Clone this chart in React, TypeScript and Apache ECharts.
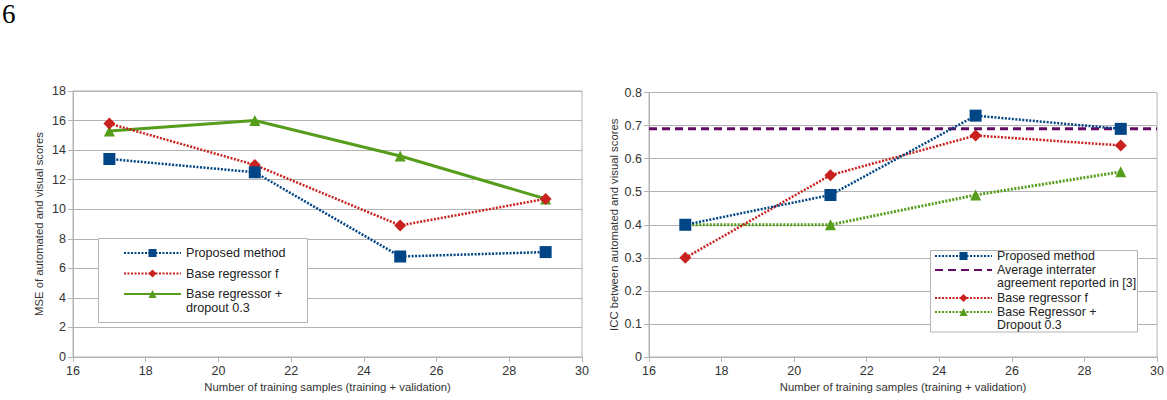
import React, { useEffect, useRef } from "react";
import * as echarts from "echarts";

// ---- data ----
const samples = [17, 21, 25, 29];
const mseProposed = [13.4, 12.5, 6.8, 7.1];
const mseBase = [15.8, 13.0, 8.9, 10.7];
const mseDropout = [15.3, 16.0, 13.6, 10.7];
const iccProposed = [0.4, 0.49, 0.73, 0.69];
const iccBase = [0.3, 0.55, 0.67, 0.64];
const iccDropout = [0.4, 0.4, 0.49, 0.56];
const interraterX = [16, 30];
const interraterValue = 0.69;

const legendLabels: Record<string, string> = {
  mseProposed: "Proposed method",
  mseBase: "Base regressor f",
  mseDropout: "Base regressor +\n{l2|dropout 0.3}",
  iccProposed: "Proposed method",
  iccInterrater: "Average interrater\n{l2|agreement reported in [3]}",
  iccBase: "Base regressor f",
  iccDropout: "Base Regressor +\n{l2|Dropout 0.3}",
};

const FONT = "Liberation Sans, Arial, sans-serif";
const BLUE = "#004586";
const RED = "#c9211e";
const GREEN = "#579d1c";
const PURPLE = "#630a63";
const GRID = "#b3b3b3";
const DOT = [2, 1.5];

const pts = (ys: number[]) => ys.map((y, i) => [samples[i], y]);

export default function App() {
  const ref = useRef<HTMLDivElement>(null);
  useEffect(() => {
    if (!ref.current) return;
    const chart = echarts.init(ref.current, undefined, { renderer: "svg" });

    const xAxisBase = (gridIndex: number) => ({
      type: "value",
      gridIndex,
      min: 16,
      max: 30,
      interval: 2,
      name: "Number of training samples (training + validation)",
      nameLocation: "middle",
      nameGap: 24,
      nameTextStyle: { fontFamily: FONT, fontSize: 11.3, color: "#333" },
      axisLine: { show: true, lineStyle: { color: GRID, width: 1 } },
      axisTick: { show: true, inside: false, length: 5, lineStyle: { color: GRID } },
      axisLabel: { fontFamily: FONT, fontSize: 12.5, color: "#333", margin: 7 },
      splitLine: { show: false },
    });

    const legendCommon = (fs: number, lh: number) => ({
      orient: "vertical",
      selectedMode: false,
      itemWidth: 57,
      itemHeight: 10,
      padding: 0,
      formatter: (n: string) => legendLabels[n] ?? n,
      textStyle: {
        fontFamily: FONT,
        fontSize: fs,
        color: "#222",
        lineHeight: lh,
        rich: {
          l2: {
            fontFamily: FONT,
            fontSize: fs,
            color: "#222",
            lineHeight: 0,
            verticalAlign: "top",
          },
        },
      },
    });

    const option: any = {
      animation: false,
      backgroundColor: "#fff",
      title: {
        text: "6",
        left: 2,
        top: 0,
        padding: 0,
        textStyle: { fontFamily: "Liberation Serif, DejaVu Serif, serif", fontSize: 27, fontWeight: "normal", color: "#000" },
      },
      grid: [
        { left: 73, top: 91, width: 509, height: 266, show: true, borderColor: GRID, borderWidth: 1, backgroundColor: "transparent" },
        { left: 649, top: 92.5, width: 509, height: 264.5, show: true, borderColor: GRID, borderWidth: 1, backgroundColor: "transparent" },
      ],
      xAxis: [xAxisBase(0), xAxisBase(1)],
      yAxis: [
        {
          type: "value",
          gridIndex: 0,
          min: 0,
          max: 18,
          interval: 2,
          name: "MSE of automated and visual scores",
          nameLocation: "middle",
          nameGap: 29,
          nameTextStyle: { fontFamily: FONT, fontSize: 11.3, color: "#333" },
          axisLine: { show: true, lineStyle: { color: GRID } },
          axisTick: { show: true, length: 5, lineStyle: { color: GRID } },
          axisLabel: { fontFamily: FONT, fontSize: 12.5, color: "#333", margin: 7 },
          splitLine: { show: true, lineStyle: { color: GRID, width: 1 } },
        },
        {
          type: "value",
          gridIndex: 1,
          min: 0,
          max: 0.8,
          interval: 0.1,
          name: "ICC between automated and visual scores",
          nameLocation: "middle",
          nameGap: 30,
          nameTextStyle: { fontFamily: FONT, fontSize: 11.3, color: "#333" },
          axisLine: { show: true, lineStyle: { color: GRID } },
          axisTick: { show: true, length: 5, lineStyle: { color: GRID } },
          axisLabel: { fontFamily: FONT, fontSize: 12.5, color: "#333", margin: 7 },
          splitLine: { show: true, lineStyle: { color: GRID, width: 1 } },
        },
      ],
      legend: [
        {
          ...legendCommon(12.6, 15),
          left: 123,
          top: 245.5,
          itemGap: 5.5,
          data: ["mseProposed", "mseBase", "mseDropout"],
        },
        {
          ...legendCommon(12.4, 14),
          left: 934,
          top: 249,
          itemGap: 0,
          data: ["iccProposed", { name: "iccInterrater", itemStyle: { opacity: 0 } }],
        },
        {
          ...legendCommon(12.4, 14),
          left: 934,
          top: 291,
          itemGap: 0,
          data: ["iccBase", "iccDropout"],
        },
      ],
      graphic: [
        {
          type: "rect",
          z: 1,
          shape: { x: 98.5, y: 238.5, width: 209, height: 84 },
          style: { fill: "#fff", stroke: GRID, lineWidth: 1 },
        },
        {
          type: "rect",
          z: 1,
          shape: { x: 930.5, y: 250.5, width: 207, height: 81.5 },
          style: { fill: "#fff", stroke: GRID, lineWidth: 1 },
        },
      ],
      series: [
        {
          name: "mseDropout",
          type: "line",
          xAxisIndex: 0,
          yAxisIndex: 0,
          data: pts(mseDropout),
          symbol: "triangle",
          symbolSize: 11,
          itemStyle: { color: GREEN },
          lineStyle: { color: GREEN, width: 3, type: "solid" },
        },
        {
          name: "mseBase",
          type: "line",
          xAxisIndex: 0,
          yAxisIndex: 0,
          data: pts(mseBase),
          symbol: "diamond",
          symbolSize: 12,
          itemStyle: { color: RED },
          lineStyle: { color: RED, width: 2.5, type: DOT },
        },
        {
          name: "mseProposed",
          type: "line",
          xAxisIndex: 0,
          yAxisIndex: 0,
          data: pts(mseProposed),
          symbol: "rect",
          symbolSize: 12,
          itemStyle: { color: BLUE },
          lineStyle: { color: BLUE, width: 2.5, type: DOT },
        },
        {
          name: "iccInterrater",
          type: "line",
          xAxisIndex: 1,
          yAxisIndex: 1,
          data: interraterX.map((x) => [x, interraterValue]),
          symbol: "none",
          itemStyle: { color: PURPLE },
          lineStyle: { color: PURPLE, width: 3, type: [8, 5] },
        },
        {
          name: "iccDropout",
          type: "line",
          xAxisIndex: 1,
          yAxisIndex: 1,
          data: pts(iccDropout),
          symbol: "triangle",
          symbolSize: 11,
          itemStyle: { color: GREEN },
          lineStyle: { color: GREEN, width: 3, type: DOT },
        },
        {
          name: "iccBase",
          type: "line",
          xAxisIndex: 1,
          yAxisIndex: 1,
          data: pts(iccBase),
          symbol: "diamond",
          symbolSize: 12,
          itemStyle: { color: RED },
          lineStyle: { color: RED, width: 2.5, type: DOT },
        },
        {
          name: "iccProposed",
          type: "line",
          xAxisIndex: 1,
          yAxisIndex: 1,
          data: pts(iccProposed),
          symbol: "rect",
          symbolSize: 12,
          itemStyle: { color: BLUE },
          lineStyle: { color: BLUE, width: 2.5, type: DOT },
        },
      ],
    };

    chart.setOption(option);
    return () => chart.dispose();
  }, []);

  return (
    <div
      ref={ref}
      style={{ position: "fixed", left: 0, top: 0, width: 1167, height: 400, background: "#fff" }}
    />
  );
}
